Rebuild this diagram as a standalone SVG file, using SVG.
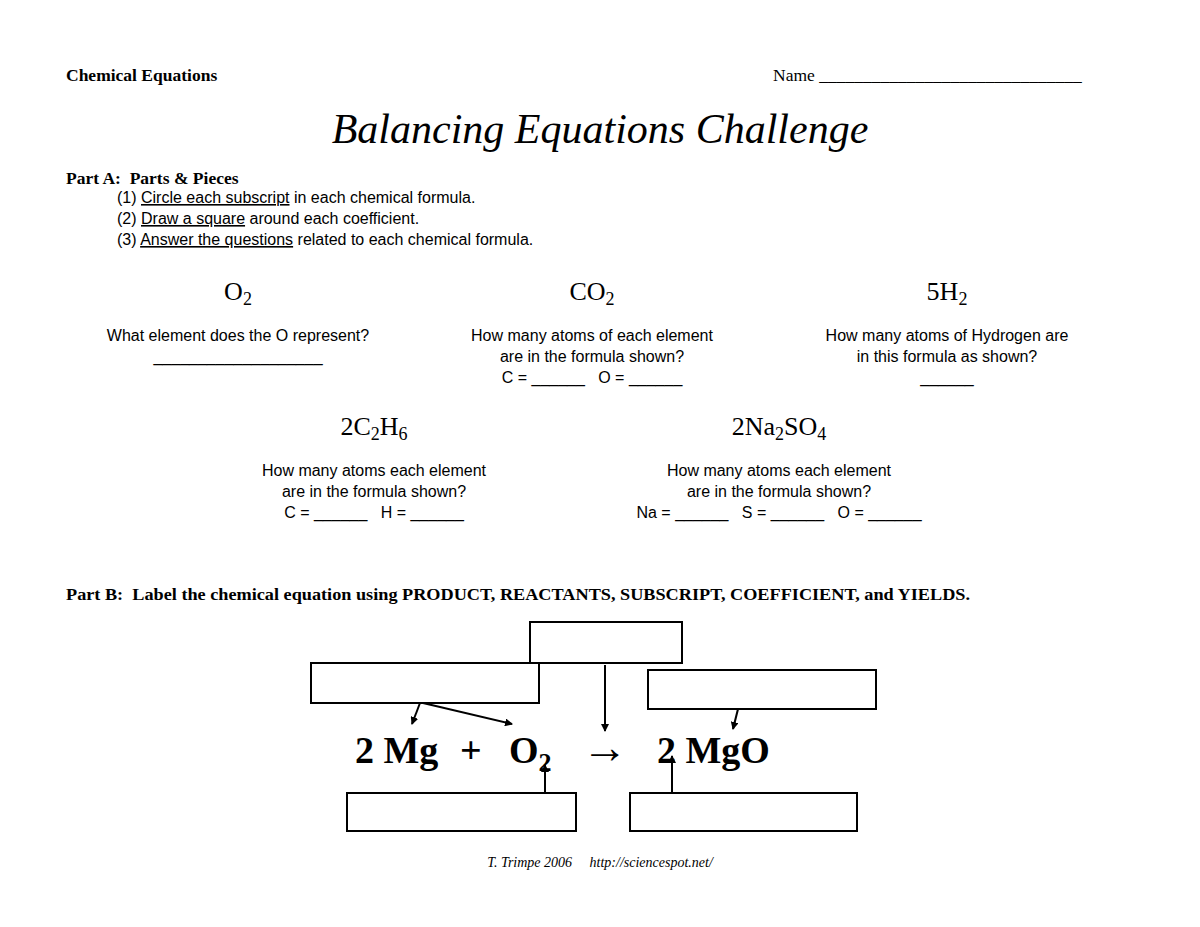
<svg xmlns="http://www.w3.org/2000/svg" width="1200" height="927" viewBox="0 0 1200 927">
<style>
text{font-family:"Liberation Serif",serif;fill:#000;white-space:pre}
.s{font-family:"Liberation Sans",sans-serif;font-size:16px}
.h{font-size:17.5px;font-weight:bold}
.f{font-size:26px}
.e{font-size:38px;font-weight:bold}
.b{fill:#fff;stroke:#000;stroke-width:2}
.c{stroke:#000;stroke-width:2;fill:none;marker-end:url(#a)}
</style>
<defs><marker id="a" markerWidth="8" markerHeight="8" refX="7" refY="4" orient="auto" markerUnits="userSpaceOnUse"><path d="M0,0L8,4L0,8z"/></marker></defs>
<rect width="1200" height="927" fill="#fff"/>
<text x="66" y="81" class="h">Chemical Equations</text>
<text x="773" y="81" font-size="17.5">Name ______________________________</text>
<text x="600" y="143" font-size="42" font-style="italic" text-anchor="middle">Balancing Equations Challenge</text>
<text x="66" y="184" class="h">Part A:  Parts &amp; Pieces</text>
<text x="117" y="203" class="s">(1) <tspan text-decoration="underline">Circle each subscript</tspan> in each chemical formula.</text>
<text x="117" y="224" class="s">(2) <tspan text-decoration="underline">Draw a square</tspan> around each coefficient.</text>
<text x="117" y="245" class="s">(3) <tspan text-decoration="underline">Answer the questions</tspan> related to each chemical formula.</text>
<g id="f1"><text x="238" y="300" class="f" text-anchor="middle">O<tspan font-size="18" dy="5">2</tspan></text>
<text x="238" y="341" class="s" text-anchor="middle">What element does the O represent?</text>
<text x="238" y="362" class="s" text-anchor="middle">___________________</text></g>
<g id="f2"><text x="592" y="300" class="f" text-anchor="middle">CO<tspan font-size="18" dy="5">2</tspan></text>
<text x="592" y="341" class="s" text-anchor="middle">How many atoms of each element</text>
<text x="592" y="362" class="s" text-anchor="middle">are in the formula shown?</text>
<text x="592" y="383" class="s" text-anchor="middle">C = ______   O = ______</text></g>
<g id="f3"><text x="947" y="300" class="f" text-anchor="middle">5H<tspan font-size="18" dy="5">2</tspan></text>
<text x="947" y="341" class="s" text-anchor="middle">How many atoms of Hydrogen are</text>
<text x="947" y="362" class="s" text-anchor="middle">in this formula as shown?</text>
<text x="947" y="383" class="s" text-anchor="middle">______</text></g>
<g id="f4"><text x="374" y="435" class="f" text-anchor="middle">2C<tspan font-size="18" dy="5">2</tspan><tspan dy="-5">H</tspan><tspan font-size="18" dy="5">6</tspan></text>
<text x="374" y="476" class="s" text-anchor="middle">How many atoms each element</text>
<text x="374" y="497" class="s" text-anchor="middle">are in the formula shown?</text>
<text x="374" y="518" class="s" text-anchor="middle">C = ______   H = ______</text></g>
<g id="f5"><text x="779" y="435" class="f" text-anchor="middle">2Na<tspan font-size="18" dy="5">2</tspan><tspan dy="-5">SO</tspan><tspan font-size="18" dy="5">4</tspan></text>
<text x="779" y="476" class="s" text-anchor="middle">How many atoms each element</text>
<text x="779" y="497" class="s" text-anchor="middle">are in the formula shown?</text>
<text x="779" y="518" class="s" text-anchor="middle">Na = ______   S = ______   O = ______</text></g>
<text x="66" y="600" class="h" textLength="904" lengthAdjust="spacingAndGlyphs">Part B:  Label the chemical equation using PRODUCT, REACTANTS, SUBSCRIPT, COEFFICIENT, and YIELDS.</text>
<g id="eq"><text x="355" y="763" class="e">2 Mg</text>
<text x="460" y="763" class="e">+</text>
<text x="509" y="763" class="e">O<tspan font-size="26" dy="8">2</tspan></text>
<text x="582" y="763" font-size="46">→</text>
<text x="657" y="763" class="e">2 MgO</text></g>
<g id="boxTop"><rect class="b" x="530" y="622" width="152" height="41"/></g>
<g id="boxLeft"><rect class="b" x="311" y="663" width="228" height="40"/></g>
<g id="boxRight"><rect class="b" x="648" y="670" width="228" height="39"/></g>
<g id="boxBL"><rect class="b" x="347" y="793" width="229" height="38"/></g>
<g id="boxBR"><rect class="b" x="630" y="793" width="227" height="38"/></g>
<g id="connectors">
<path class="c" d="M420,703L412,724"/>
<path class="c" d="M423,703L512,724"/>
<path class="c" d="M605,665L605,731"/>
<path class="c" d="M738,709L733,729"/>
<path class="c" d="M545,793L545,765"/>
<path class="c" d="M672,793L672,756"/>
</g>
<text x="600" y="867" font-size="14" font-style="italic" text-anchor="middle">T. Trimpe 2006     http://sciencespot.net/</text>
</svg>
